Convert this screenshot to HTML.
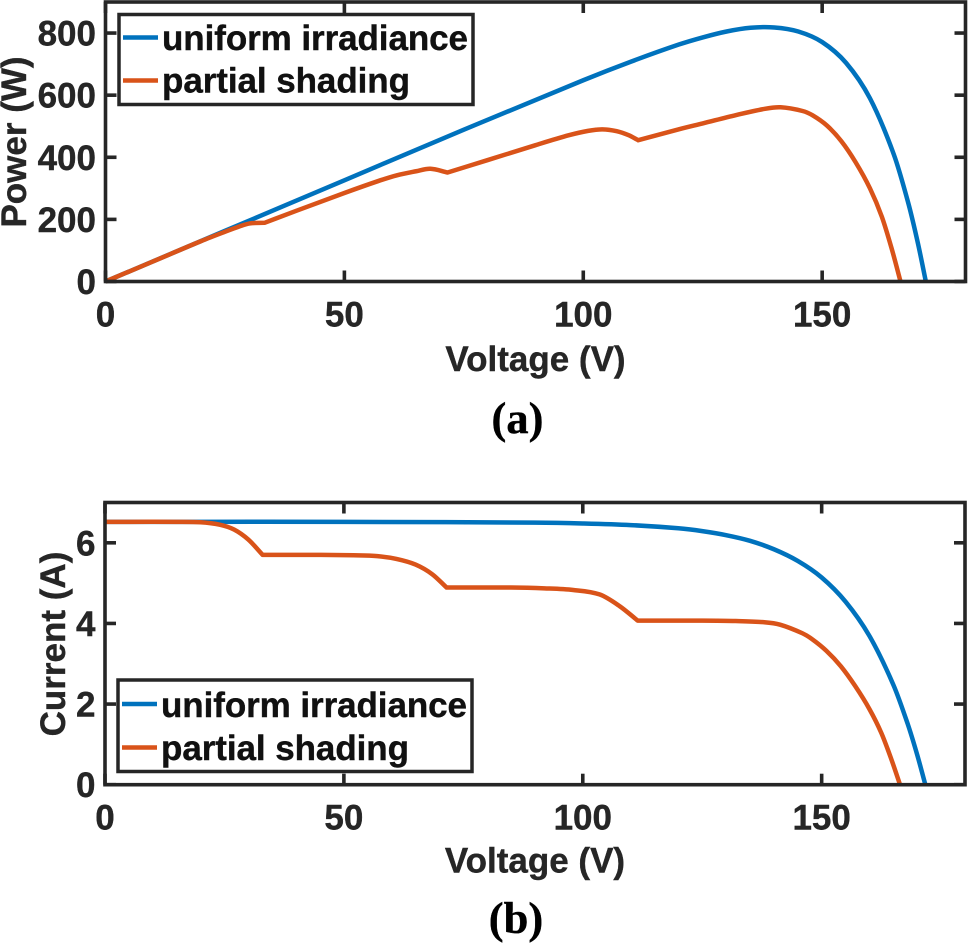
<!DOCTYPE html>
<html>
<head>
<meta charset="utf-8">
<style>
html,body{margin:0;padding:0;background:#fff;width:968px;height:943px;overflow:hidden}
svg{display:block}
text{font-family:"Liberation Sans",sans-serif;font-weight:bold;fill:#262626;stroke:#262626;stroke-width:.4px}
.leg{font-size:35px;fill:#111;stroke:#111}
.tick{font-size:35px}
.lab{font-size:35px}
.cap{font-family:"Liberation Serif",serif;font-size:44.5px;fill:#000;stroke:#000}
</style>
</head>
<body>
<svg id="fig" xmlns="http://www.w3.org/2000/svg" width="968" height="943" viewBox="0 0 968 943">
  <g id="panel-a"></g>
  <g id="panel-b"></g>

  <text class="lab" x="535.5" y="371" text-anchor="middle">Voltage (V)</text>
  <text class="lab" transform="translate(26,142) rotate(-90)" text-anchor="middle">Power (W)</text>
  <text class="cap" x="517.5" y="433" text-anchor="middle">(a)</text>

  <text class="lab" x="535" y="872.5" text-anchor="middle">Voltage (V)</text>
  <text class="lab" transform="translate(65,644) rotate(-90)" text-anchor="middle">Current (A)</text>
  <text class="cap" x="516" y="933" text-anchor="middle">(b)</text>

  <g>
    <rect x="119" y="14.5" width="354" height="90" fill="#fff" stroke="#262626" stroke-width="3.5"/>
    <line x1="123" x2="158" y1="37.5" y2="37.5" stroke="#0072BD" stroke-width="4.5"/>
    <text class="leg" x="162" y="50" textLength="306" lengthAdjust="spacing">uniform irradiance</text>
    <line x1="123" x2="158" y1="80.5" y2="80.5" stroke="#D95319" stroke-width="4.5"/>
    <text class="leg" x="162" y="92.5" textLength="248" lengthAdjust="spacing">partial shading</text>
  </g>
  <g>
    <rect x="118" y="680" width="354" height="91.5" fill="#fff" stroke="#262626" stroke-width="3.5"/>
    <line x1="122" x2="157" y1="704" y2="704" stroke="#0072BD" stroke-width="4.5"/>
    <text class="leg" x="161" y="717" textLength="306" lengthAdjust="spacing">uniform irradiance</text>
    <line x1="122" x2="157" y1="747.5" y2="747.5" stroke="#D95319" stroke-width="4.5"/>
    <text class="leg" x="161" y="760" textLength="248" lengthAdjust="spacing">partial shading</text>
  </g>
</svg>
<script>
// Chart values
const xTicks = [0, 50, 100, 150];
const powerTicks = [0, 200, 400, 600, 800];
const currentTicks = [0, 2, 4, 6];

const powerUniformV = [0, 25, 50, 75, 100, 110, 120, 125, 130, 135, 140, 145, 150, 155, 160, 165, 168, 170, 171.7];
const powerUniformP = [0, 163, 326, 489, 648, 708, 763, 786, 805, 817, 818, 805, 771, 704, 590, 409, 254, 126, 0];

const powerPartialV = [0, 10, 20, 25, 28, 30.2, 33.3, 40, 50, 57, 61, 65, 68, 71.6, 80, 90, 97, 101, 104, 107, 109.5, 111.5, 120, 125, 132, 138, 141.3, 145.9, 148, 151, 154, 157, 160, 162.5, 164.6, 166.4];
const powerPartialP = [0, 65, 130, 160, 177, 187, 189, 228, 285, 323, 342, 355, 363, 351, 391, 439, 471, 485, 490, 484, 471, 455, 490, 509, 536, 556, 561, 549, 535, 502, 452, 384, 300, 208, 103, 0];
const powerKinks = [33.3, 71.6, 111.5];

const currentUniformV = [0, 50, 90, 100, 110, 120, 125, 130, 135, 140, 145, 150, 155, 160, 165, 168, 170, 171.7];
const currentUniformI = [6.52, 6.52, 6.50, 6.48, 6.44, 6.36, 6.29, 6.19, 6.05, 5.84, 5.55, 5.14, 4.54, 3.69, 2.48, 1.51, 0.74, 0];

const currentPartialV = [0, 15, 20, 24, 27, 30, 33, 45, 52, 57, 61, 65, 68.5, 71.5, 85, 92, 98, 103.5, 107.7, 111.5, 125, 132, 138, 141.3, 145.9, 148, 151, 154, 157, 160, 162.5, 164.6, 166.4];
const currentPartialI = [6.52, 6.52, 6.51, 6.45, 6.33, 6.08, 5.70, 5.70, 5.69, 5.67, 5.60, 5.46, 5.22, 4.89, 4.89, 4.87, 4.83, 4.72, 4.43, 4.07, 4.07, 4.06, 4.03, 3.97, 3.76, 3.61, 3.32, 2.94, 2.45, 1.875, 1.28, 0.625, 0];
const currentKinks = [33, 71.5, 111.5];

const SVGNS = 'http://www.w3.org/2000/svg';

function make(tag, parent, attrs) {
  const el = document.createElementNS(SVGNS, tag);
  for (const k in attrs) el.setAttribute(k, attrs[k]);
  parent.appendChild(el);
  return el;
}

// Smooth curve through mapped points, keeping sharp corners at kink voltages
function curvePath(xs, ys, kinks, sx, sy) {
  const px = xs.map(sx);
  const py = ys.map(sy);
  const isKink = i => kinks.indexOf(xs[i]) >= 0;
  let d = 'M' + px[0].toFixed(2) + ' ' + py[0].toFixed(2);
  const slope = (i, side) => {
    const first = i === 0 || (isKink(i) && side > 0);
    const last = i === px.length - 1 || (isKink(i) && side < 0);
    if (first) return (py[i + 1] - py[i]) / (px[i + 1] - px[i]);
    if (last) return (py[i] - py[i - 1]) / (px[i] - px[i - 1]);
    return (py[i + 1] - py[i - 1]) / (px[i + 1] - px[i - 1]);
  };
  for (let i = 0; i < px.length - 1; i++) {
    const dx = px[i + 1] - px[i];
    const c1y = py[i] + slope(i, 1) * dx / 3;
    const c2y = py[i + 1] - slope(i + 1, -1) * dx / 3;
    d += ' C' + (px[i] + dx / 3).toFixed(2) + ' ' + c1y.toFixed(2) + ' ' +
      (px[i + 1] - dx / 3).toFixed(2) + ' ' + c2y.toFixed(2) + ' ' +
      px[i + 1].toFixed(2) + ' ' + py[i + 1].toFixed(2);
  }
  return d;
}

function drawPanel(host, box, yMax, yTicks, series, prefix) {
  const sx = v => box.l + v / 180 * (box.r - box.l);
  const sy = v => box.b - v / yMax * (box.b - box.t);
  const C = '#262626';

  series.forEach(s => {
    const line = make('path', host, {d: curvePath(s.x, s.y, s.kinks, sx, sy), fill: 'none', stroke: s.color, 'stroke-width': 4.5, 'stroke-linejoin': 'round'});
    
    
  });

  const frame = make('rect', host, {x: box.l, y: box.t, width: box.r - box.l, height: box.b - box.t, fill: 'none', stroke: C, 'stroke-width': 3.6});
  
  

  xTicks.forEach(v => {
    const x = sx(v);
    const t1 = make('line', host, {x1: x, x2: x, y1: box.b, y2: box.b - 11, stroke: C, 'stroke-width': 3.6});
    
    
    const t2 = make('line', host, {x1: x, x2: x, y1: box.t, y2: box.t + 11, stroke: C, 'stroke-width': 3.6});
    
    
    const lb = make('text', host, {x: x, y: box.b + 45, 'text-anchor': 'middle', class: 'tick'});
    
    
    lb.textContent = v;
  });

  yTicks.forEach(v => {
    const y = sy(v);
    const t1 = make('line', host, {x1: box.l, x2: box.l + 11, y1: y, y2: y, stroke: C, 'stroke-width': 3.6});
    
    
    const t2 = make('line', host, {x1: box.r, x2: box.r - 11, y1: y, y2: y, stroke: C, 'stroke-width': 3.6});
    
    
    const lb = make('text', host, {x: box.l - 9.5, y: y + 12.5, 'text-anchor': 'end', class: 'tick'});
    
    
    lb.textContent = v;
  });
}

drawPanel(document.getElementById('panel-a'), {l: 105.5, r: 965.5, t: 2, b: 281.5}, 900, powerTicks, [
  {x: powerUniformV, y: powerUniformP, kinks: [], color: '#0072BD', name: 'power-uniform-line'},
  {x: powerPartialV, y: powerPartialP, kinks: powerKinks, color: '#D95319', name: 'power-partial-line'}
], 'power');

drawPanel(document.getElementById('panel-b'), {l: 105, r: 965, t: 502.5, b: 784.7}, 7, currentTicks, [
  {x: currentUniformV, y: currentUniformI, kinks: [], color: '#0072BD', name: 'current-uniform-line'},
  {x: currentPartialV, y: currentPartialI, kinks: currentKinks, color: '#D95319', name: 'current-partial-line'}
], 'current');
</script>
</body>
</html>
